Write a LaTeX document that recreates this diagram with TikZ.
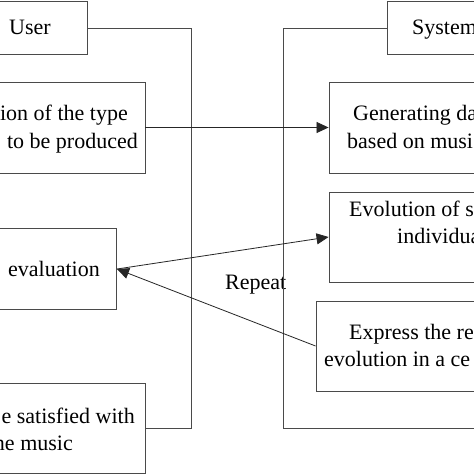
\documentclass[tikz,border=0pt]{standalone}
\usepackage{fontspec}
\setmainfont{Liberation Serif}
\usetikzlibrary{arrows.meta}
\definecolor{linegray}{HTML}{4A4A4A}
\tikzset{
  boxshape/.style={draw=linegray, line width=0.9pt, rectangle, inner sep=0pt},
  conn/.style={draw=linegray, line width=0.9pt},
  arr/.style={draw=black!85, line width=0.8pt, -{Triangle[length=12pt,width=11pt]}},
  txt/.style={inner sep=0pt, font=\fontsize{22}{27}\selectfont},
}
\begin{document}
\begin{tikzpicture}[x=1pt,y=-1pt]
\useasboundingbox (0,0) rectangle (474,474);
\clip (0,0) rectangle (474,474);
\fill[white] (0,0) rectangle (474,474);
% boxes (left column)
\node[boxshape, minimum width=147pt, minimum height=53pt] (user) at (13.5,27.5) {};
\node[boxshape, minimum width=295pt, minimum height=91pt] (type) at (-2.5,127.5) {};
\node[boxshape, minimum width=266pt, minimum height=81pt] (eval) at (-17,268.5) {};
\node[boxshape, minimum width=295pt, minimum height=90pt] (sat) at (-2.5,428) {};
% boxes (right column)
\node[boxshape, minimum width=153pt, minimum height=53pt] (sys) at (463.5,27.5) {};
\node[boxshape, minimum width=271pt, minimum height=91pt] (gen) at (464.5,127.5) {};
\node[boxshape, minimum width=271pt, minimum height=90pt] (evo) at (464.5,237) {};
\node[boxshape, minimum width=284pt, minimum height=90pt] (expr) at (458,346) {};
% texts
\node[txt, anchor=base west] (tuser) at (9,34) {User};
\node[txt, anchor=base east] (ttype1) at (128,120) {ion of the type};
\node[txt, anchor=base east] (ttype2) at (138,148) {to be produced};
\node[txt, anchor=base east] (teval) at (100,276) {evaluation};
\node[txt, anchor=base east] (tsat1) at (135,423) {e satisfied with};
\node[txt, anchor=base east] (tsat2) at (73,450) {he music};
\node[txt, anchor=base west] (tsys) at (412,34) {System};
\node[txt, anchor=base west] (tgen1) at (353,120) {Generating da};
\node[txt, anchor=base west] (tgen2) at (347,148) {based on musi};
\node[txt, anchor=base west] (tevo1) at (349,216) {Evolution of s};
\node[txt, anchor=base west] (tevo2) at (397,243) {individua};
\node[txt, anchor=base west] (texp1) at (349,339) {Express the re};
\node[txt, anchor=base west] (texp2) at (324,366) {evolution in a ce};
\node[txt, anchor=base west] (trep) at (225,289) {Repeat};
% connectors
\coordinate (offr) at (520,428);
\draw[conn] (user.east |- 0,28) -- (191,28) -- (191,428) -- (sat.east |- 0,428);
\draw[conn] (sys.west |- 0,28) -- (283,28) -- (283,428) -- (offr);
\draw[arr] (type.east) -- (gen.west);
\coordinate (ev) at (117,269);
\draw[arr] (ev) -- (evo.west);
\draw[arr] (expr.west) -- (ev);
\end{tikzpicture}
\end{document}
